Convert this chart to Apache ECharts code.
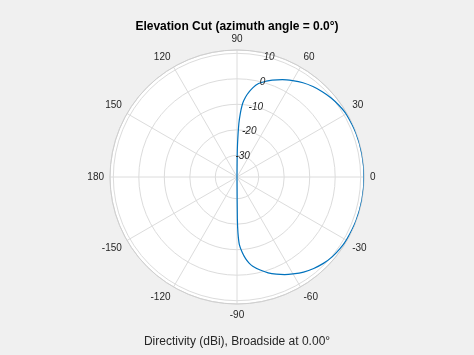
<!DOCTYPE html>
<html><head><meta charset="utf-8">
<script src="https://cdn.jsdelivr.net/npm/echarts@6/dist/echarts.min.js"></script>
<style>html,body{margin:0;padding:0;background:#f0f0f0;} #c{width:474px;height:355px;}</style>
</head><body><div id="c"></div>
<script>
const titleText = 'Elevation Cut (azimuth angle = 0.0°)';
const subtitleText = 'Directivity (dBi), Broadside at 0.00°';
const radialTicks = [-30, -20, -10, 0, 10];
const radialMin = -38.5;
const radialMax = 11.3;
const angleLabelsShown = [0, 30, 60, 90, 120, 150, 180, -150, -120, -90, -60, -30];
// elevation angle (deg) and directivity (dBi)
const elevationDeg = [-90, -89.5, -89, -88, -86, -84, -82, -80, -76, -72, -68, -64, -60, -55, -50, -45, -40, -35, -30, -20, -10, 0,
  10, 20, 30, 35, 40, 45, 50, 55, 60, 65, 70, 73, 77, 80, 83, 85, 86, 87, 88, 89, 89.5, 90];
const directivityDb = [-45, -22, -16.5, -12, -8.8, -6.3, -4.4, -3.0, -0.9, 1.0, 2.6, 4.1, 5.4, 7.0, 8.3, 9.4, 10.2, 10.7, 11.0, 11.2, 11.3, 11.3,
  11.3, 11.2, 10.9, 10.4, 9.7, 8.8, 7.8, 6.6, 5.1, 3.6, 1.9, 0.8, -0.9, -3.0, -5.9, -8.5, -10.5, -13.5, -17.5, -25, -31, -45];

const chart = echarts.init(document.getElementById('c'));
const font = 'Liberation Sans, Arial, Helvetica, sans-serif';
const lineData = elevationDeg.map((a, i) => [Math.max(directivityDb[i], radialMin), a]);

chart.setOption({
  backgroundColor: '#f0f0f0',
  animation: false,
  title: [
    { text: titleText, left: 'center', top: 21, padding: 0,
      textStyle: { fontSize: 12, fontWeight: 'bold', color: '#000', fontFamily: font } },
    { text: subtitleText, left: 'center', top: 336, padding: 0,
      textStyle: { fontSize: 12, fontWeight: 'normal', color: '#262626', fontFamily: font } }
  ],
  polar: [
    { center: [237, 177], radius: 127 },
    { center: [237, 177], radius: 127 }
  ],
  angleAxis: [
    { polarIndex: 0, type: 'value', min: -180, max: 180, interval: 30, startAngle: 180, clockwise: false, z: 3,
      axisLine: { show: true, lineStyle: { color: '#cfcfcf', width: 1 } },
      axisTick: { show: false },
      splitLine: { show: true, lineStyle: { color: '#dcdcdc', width: 1 } },
      splitArea: { show: false },
      axisLabel: { margin: 6, fontSize: 10, color: '#262626', fontFamily: font,
        formatter: v => { const w = v === -180 ? 180 : v; return (v !== 180 && angleLabelsShown.indexOf(w) >= 0) ? String(w) : ''; } } },
    { polarIndex: 1, type: 'value', min: 0, max: 360, startAngle: 75, clockwise: false, z: 0,
      axisLine: { show: false }, axisTick: { show: false }, axisLabel: { show: false }, splitLine: { show: false },
      splitArea: { show: true, areaStyle: { color: ['#ffffff'] } } }
  ],
  radiusAxis: [
    { polarIndex: 0, type: 'value', min: radialMin, max: radialMax, splitNumber: 5, z: 3,
      axisLine: { show: false }, axisTick: { show: false }, axisLabel: { show: false },
      splitLine: { show: true, lineStyle: { color: '#dcdcdc', width: 1 } } },
    { polarIndex: 1, type: 'value', min: radialMin, max: radialMax, splitNumber: 5, z: 10,
      axisLine: { show: false }, axisTick: { show: false }, splitLine: { show: false },
      axisLabel: { show: true, margin: 0, align: 'center', verticalAlign: 'middle', fontStyle: 'italic',
        fontSize: 10, color: '#262626', fontFamily: font, padding: [5, 0, 0, 0],
        formatter: v => radialTicks.indexOf(v) >= 0 ? String(v) : '' } }
  ],
  series: [
    { type: 'line', coordinateSystem: 'polar', polarIndex: 0, data: lineData, showSymbol: false,
      smooth: 0.3, lineStyle: { color: '#0072BD', width: 1.2 }, z: 5 }
  ]
});
</script></body></html>
